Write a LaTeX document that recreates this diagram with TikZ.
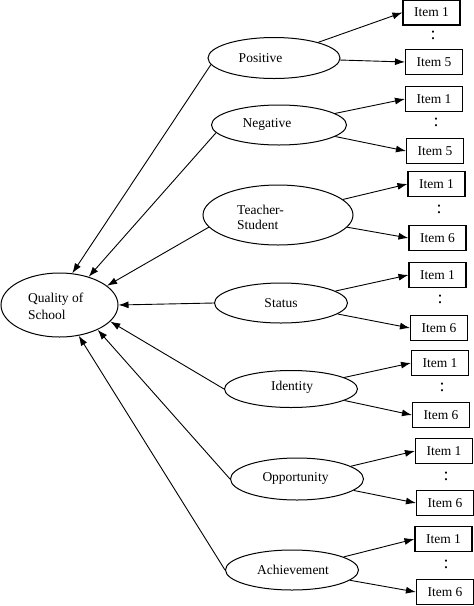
\documentclass[tikz,border=0pt]{standalone}
\usepackage{fontspec}
\setmainfont{Liberation Serif}
\usetikzlibrary{shapes.geometric,arrows.meta}
\begin{document}
\begin{tikzpicture}[x=1pt,y=-1pt,
 factor/.style={draw, ellipse, line width=1pt, inner sep=0pt, minimum width=133pt, minimum height=40pt},
 itembox/.style={draw, rectangle, line width=1.1pt, minimum width=57pt, minimum height=25pt, inner sep=0pt, font=\fontsize{13.5}{15}\selectfont},
 lbl/.style={inner sep=0pt, font=\fontsize{13.5}{15}\selectfont, align=left},
 vdotsnode/.style={inner sep=0pt, font=\fontsize{18}{20}\selectfont},
 arr/.style={-{Latex[length=10pt,width=7pt]}, line width=0.9pt}]
\useasboundingbox (0,0) rectangle (474,606);

% central construct
\node[factor, minimum width=117pt, minimum height=64pt] (q) at (59.5,305) {};
\node[lbl, anchor=west, font=\fontsize{13.5}{17}\selectfont] (qt) at (28,306.5) {Quality of\\School};

% factors
\node[factor, minimum width=132pt, minimum height=41pt] (pos) at (274,58) {};
\node[lbl] (post) at (260.5,58) {Positive};
\node[factor, minimum width=135pt] (neg) at (279,125) {};
\node[lbl] (negt) at (267,124) {Negative};
\node[factor, minimum width=150pt, minimum height=60pt] (ts) at (278,215) {};
\node[lbl, anchor=west] (tst) at (237,217.5) {Teacher-\\Student};
\node[factor] (sta) at (281,303) {};
\node[lbl] (stat) at (281,303) {Status};
\node[factor, minimum height=37pt] (ide) at (291,389) {};
\node[lbl] (idet) at (292,387) {Identity};
\node[factor, minimum height=42pt] (opp) at (297,479) {};
\node[lbl] (oppt) at (295.5,478) {Opportunity};
\node[factor] (ach) at (292,570) {};
\node[lbl] (acht) at (293,570) {Achievement};

% items
\node[itembox] (p1) at (431.5,12.5) {Item 1};
\node[itembox] (p5) at (434,62) {Item 5};
\node[itembox] (n1) at (434,99) {Item 1};
\node[itembox] (n5) at (435,151) {Item 5};
\node[itembox] (t1) at (436.5,184) {Item 1};
\node[itembox] (t6) at (437.5,238) {Item 6};
\node[itembox] (s1) at (437.5,275) {Item 1};
\node[itembox] (s6) at (439,328) {Item 6};
\node[itembox] (i1) at (440,363) {Item 1};
\node[itembox] (i6) at (441,415) {Item 6};
\node[itembox] (o1) at (444,451) {Item 1};
\node[itembox] (o6) at (445,503) {Item 6};
\node[itembox] (a1) at (443.5,539) {Item 1};
\node[itembox] (a6) at (445,592) {Item 6};

% vertical dots
\node[vdotsnode] (pd) at (433,35.5) {:};
\node[vdotsnode] (nd) at (436,122) {:};
\node[vdotsnode] (td) at (439,209) {:};
\node[vdotsnode] (sd) at (440,299) {:};
\node[vdotsnode] (id) at (442,387) {:};
\node[vdotsnode] (od) at (446,476) {:};
\node[vdotsnode] (ad) at (446,564) {:};

% factor -> items
\foreach \f/\a/\b in {pos/p1/p5, neg/n1/n5, ts/t1/t6, sta/s1/s6, ide/i1/i6, opp/o1/o6, ach/a1/a6}{
  \draw[arr] (\f) -- (\a.west);
  \draw[arr] (\f) -- (\b.west);
}

% factors -> quality
\draw[arr] (pos.186) -- (q.68);
\draw[arr] (neg.187) -- (q.44);
\draw[arr] (ts.190) -- (q.22);
\draw[arr] (sta.west) -- (q.east);
\draw[arr] (ide.west) -- (q.-18);
\draw[arr] (opp.west) -- (q.-33);
\draw[arr] (ach.west) -- (q.-58);
\end{tikzpicture}
\end{document}
